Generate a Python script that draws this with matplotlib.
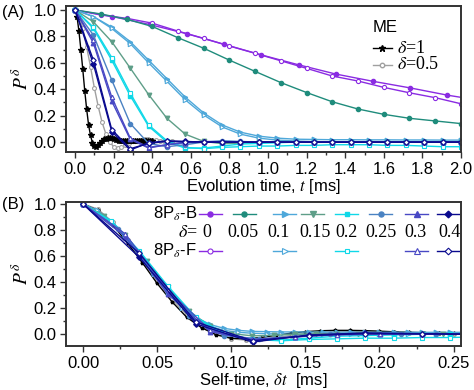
import matplotlib
matplotlib.use("Agg")
import matplotlib.pyplot as plt
from matplotlib.lines import Line2D
from matplotlib.ticker import MultipleLocator, FormatStrFormatter
import numpy as np

plt.rcParams['font.family'] = ['Liberation Sans', 'DejaVu Sans']
plt.rcParams['mathtext.fontset'] = 'stix'

# ---------------- data ----------------
# time grids [ms]
t_a = [0.0, 0.095, 0.190, 0.286, 0.381, 0.476, 0.571, 0.667, 0.762, 0.857,
       0.952, 1.048, 1.143, 1.238, 1.333, 1.429, 1.524, 1.619, 1.714, 1.810,
       1.905, 2.000, 2.095, 2.190, 2.286, 2.381, 2.476, 2.571, 2.667]
t_b = [0.0, 0.133, 0.267, 0.400, 0.533, 0.667, 0.800, 0.933, 1.067, 1.200,
       1.333, 1.467, 1.600, 1.733, 1.867, 2.000]
t_c = [0.0, 0.193, 0.386, 0.579, 0.772, 0.965, 1.158, 1.351, 1.544, 1.737,
       1.930, 2.123]
t_me1 = [0.00, 0.01, 0.02, 0.03, 0.04, 0.05, 0.06, 0.07, 0.08, 0.09, 0.10,
         0.11, 0.12, 0.13, 0.14, 0.15, 0.16, 0.17, 0.18, 0.19, 0.20, 0.21,
         0.22, 0.23, 0.24, 0.25, 0.26, 0.27, 0.28, 0.29, 0.30, 0.31, 0.32,
         0.33, 0.34, 0.35, 0.36, 0.37, 0.38, 0.39, 0.40]
t_me05 = [0.00, 0.02, 0.04, 0.06, 0.08, 0.10, 0.12, 0.14, 0.16, 0.18, 0.20,
          0.22, 0.24, 0.26, 0.28, 0.30, 0.32, 0.34, 0.36, 0.38, 0.40, 0.42,
          0.44, 0.46, 0.48, 0.50]

# ME curves
me_d1 = [1.0, 0.95, 0.84, 0.70, 0.55, 0.39, 0.25, 0.13, 0.05, -0.005, -0.03,
         -0.035, -0.025, -0.008, 0.008, 0.02, 0.027, 0.03, 0.03, 0.028, 0.024,
         0.019, 0.015, 0.012, 0.01, 0.009, 0.008, 0.008, 0.008, 0.008, 0.008,
         0.008, 0.008, 0.008, 0.008, 0.008, 0.008, 0.008, 0.008, 0.008, 0.008]
me_d05 = [1.0, 0.96, 0.86, 0.72, 0.57, 0.41, 0.27, 0.15, 0.06, 0.0, -0.035,
          -0.045, -0.04, -0.025, -0.01, 0.005, 0.012, 0.018, 0.02, 0.02, 0.018,
          0.015, 0.012, 0.01, 0.008, 0.005]

# 8P_delta-B (filled) and 8P_delta-F (open)
B_d0 = [1.0, 0.95, 0.89, 0.82, 0.74, 0.66, 0.585, 0.515, 0.46, 0.41, 0.355, 0.31]
F_d0 = [1.0, 0.962, 0.937, 0.90, 0.84, 0.785, 0.727, 0.672, 0.615, 0.558,
        0.50, 0.462, 0.414, 0.373, 0.336, 0.29]
B_d005 = [1.0, 0.97, 0.93, 0.875, 0.79, 0.71, 0.62, 0.535, 0.45, 0.375,
          0.305, 0.25, 0.21, 0.18, 0.16, 0.14]
B_d01 = [1.0, 0.95, 0.87, 0.76, 0.62, 0.48, 0.34, 0.22, 0.13, 0.075, 0.045,
         0.03, 0.022, 0.02, 0.018, 0.018, 0.017, 0.017, 0.016, 0.016, 0.015,
         0.015, 0.015, 0.015, 0.015, 0.015, 0.015, 0.015, 0.015]
F_d01 = [1.0, 0.95, 0.86, 0.745, 0.60, 0.46, 0.32, 0.205, 0.115, 0.06, 0.03,
         0.015, 0.008, 0.004, 0.002, 0.0, 0.0, 0.0, 0.0, 0.0, 0.0, 0.0, 0.0,
         0.0, 0.0, 0.0, 0.0, 0.0, 0.0]
B_d015 = [1.0, 0.91, 0.76, 0.56, 0.36, 0.18, 0.06, 0.005, -0.012, -0.008,
          0.0, 0.004, 0.004, 0.002, 0.0, 0.0, 0.0, 0.0, 0.0, 0.0, 0.0, 0.0,
          0.0, 0.0, 0.0, 0.0, 0.0, 0.0, 0.0]
B_d02 = [1.0, 0.86, 0.62, 0.35, 0.12, 0.0, -0.045, -0.045, -0.03, -0.015,
         -0.01, -0.005, 0.0, 0.0, 0.0, 0.0, 0.0, 0.0, 0.0, 0.0, 0.0, 0.0, 0.0,
         0.0, 0.0, 0.0, 0.0, 0.0, 0.0]
F_d02 = [1.0, 0.87, 0.64, 0.37, 0.13, 0.01, -0.04, -0.05, -0.04, -0.035,
         -0.03, -0.03, -0.025, -0.025, -0.02, -0.02, -0.02, -0.025, -0.025,
         -0.03, -0.035, -0.035, -0.035, -0.035, -0.035, -0.035, -0.035,
         -0.035, -0.035]
B_d025 = [1.0, 0.81, 0.47, 0.14, -0.01, -0.035, -0.02, 0.0, 0.01, 0.005,
          0.0, 0.0, 0.0, 0.0, 0.0, 0.0, 0.0, 0.0, 0.0, 0.0, 0.0, 0.0, 0.0,
          0.0, 0.0, 0.0, 0.0, 0.0, 0.0]
B_d03 = [1.0, 0.75, 0.31, 0.02, -0.045, -0.02, 0.0, 0.005, 0.003, 0.0, 0.0,
         0.0, 0.0, 0.0, 0.0, 0.0, 0.0, 0.0, 0.0, 0.0, 0.0, 0.0, 0.0, 0.0,
         0.0, 0.0, 0.0, 0.0, 0.0]
F_d03 = [1.0, 0.77, 0.34, 0.03, -0.04, -0.02, -0.005, 0.0, 0.0, 0.0, 0.0,
         0.0, 0.0, 0.0, 0.0, 0.0, 0.0, 0.0, 0.0, 0.0, 0.0, 0.0, 0.0, 0.0,
         0.0, 0.0, 0.0, 0.0, 0.0]
B_d04 = [1.0, 0.59, 0.08, -0.06, -0.005, 0.01, 0.005, 0.0, 0.0, 0.0, 0.0,
         0.0, 0.0, 0.0, 0.0, 0.0, 0.0, 0.0, 0.0, 0.0, 0.0, 0.0, 0.0, 0.0,
         0.0, 0.0, 0.0, 0.0, 0.0]
F_d04 = [1.0, 0.62, 0.095, -0.05, -0.01, 0.005, 0.003, 0.0, 0.0, 0.0, 0.0,
         0.0, 0.0, 0.0, 0.0, 0.0, 0.0, 0.0, 0.0, 0.0, 0.0, 0.0, 0.0, 0.0,
         0.0, 0.0, 0.0, 0.0, 0.0]

deltas = [0, 0.05, 0.1, 0.15, 0.2, 0.25, 0.3, 0.4]
delta_labels = ['0', '0.05', '0.1', '0.15', '0.2', '0.25', '0.3', '0.4']

# ---------------- styles ----------------
C = {0: '#8A2BE2', 0.05: '#1F8C7C', 0.1: '#4EA8DA', 0.15: '#5E9E88',
     0.2: '#10D8E8', 0.25: '#4A82C2', 0.3: '#4848C4', 0.4: '#0A0A8E'}
M = {0: 'o', 0.05: 'o', 0.1: '>', 0.15: 'v', 0.2: 's', 0.25: 'o', 0.3: '^', 0.4: 'D'}
MS = {0: 3.0, 0.05: 3.0, 0.1: 3.2, 0.15: 3.2, 0.2: 2.8, 0.25: 3.0, 0.3: 3.2, 0.4: 2.8}

series_B = {0: (t_c, B_d0), 0.05: (t_b, B_d005), 0.1: (t_a, B_d01),
            0.15: (t_a, B_d015), 0.2: (t_a, B_d02), 0.25: (t_a, B_d025),
            0.3: (t_a, B_d03), 0.4: (t_a, B_d04)}
series_F = {0: (t_b, F_d0), 0.1: (t_a, F_d01), 0.2: (t_a, F_d02),
            0.3: (t_a, F_d03), 0.4: (t_a, F_d04)}

W, H = 474, 390
fig = plt.figure(figsize=(W / 100, H / 100), dpi=100)

def ax_rect(l, r, t, b):
    return [l / W, 1 - b / H, (r - l) / W, (b - t) / H]

axA = fig.add_axes(ax_rect(66, 461, 6, 152))
axB = fig.add_axes(ax_rect(66, 461, 202, 346))

LW = 1.0

def draw(ax, scale):
    # ME
    ax.plot(np.array(t_me05) * (0.5 if scale else 1), me_d05, color='#A0A0A0',
            lw=LW, marker='o', ms=2.8, mfc='white', mec='#A0A0A0', mew=0.8)
    ax.plot(np.array(t_me1), me_d1, color='black',
            lw=LW, marker='*', ms=3.8 if not scale else 2.6, mec='black')
    for d in deltas:
        if scale and d < 0.1:
            continue
        t, p = series_B[d]
        x = np.array(t) * (d if scale else 1)
        ax.plot(x, p, color=C[d], lw=LW, marker=M[d], ms=MS[d], mfc=C[d], mec=C[d])
        if d in series_F:
            t, p = series_F[d]
            x = np.array(t) * (d if scale else 1)
            ax.plot(x, p, color=C[d], lw=LW, marker=M[d], ms=MS[d],
                    mfc='white', mec=C[d], mew=0.8)

draw(axA, False)
draw(axB, True)

for ax in (axA, axB):
    ax.yaxis.set_major_locator(MultipleLocator(0.2))
    ax.yaxis.set_minor_locator(MultipleLocator(0.1))
    ax.yaxis.set_major_formatter(FormatStrFormatter('%.1f'))
    ax.tick_params(which='both', direction='out', top=False, right=False,
                   labelsize=12, color='#333333', width=1.0, pad=2.5)
    ax.tick_params(which='major', length=4.5)
    ax.tick_params(which='minor', length=2.5)
    for s in ax.spines.values():
        s.set_linewidth(1.4)
        s.set_color('#333333')
    ax.set_ylabel(r'$P^{\delta}$', fontsize=14, labelpad=1)

axA.set_ylim(-0.075, 1.03)
axA.set_xlim(-0.047, 2.0)
axA.xaxis.set_major_locator(MultipleLocator(0.2))
axA.xaxis.set_minor_locator(MultipleLocator(0.1))
axA.xaxis.set_major_formatter(FormatStrFormatter('%.1f'))
axA.set_xlabel(r'Evolution time, $\mathit{t}$ [ms]', fontsize=12, labelpad=0)

axB.set_ylim(-0.09, 1.015)
axB.set_xlim(-0.0115, 0.255)
axB.xaxis.set_major_locator(MultipleLocator(0.05))
axB.xaxis.set_minor_locator(MultipleLocator(0.025))
axB.xaxis.set_major_formatter(FormatStrFormatter('%.2f'))
axB.set_xlabel(r'Self-time, $\delta t$  [ms]', fontsize=12, labelpad=0)

fig.text(2 / W, 1 - 13 / H, '(A)', fontsize=12, va='center', ha='left')
fig.text(2 / W, 1 - 205 / H, '(B)', fontsize=12, va='center', ha='left')

serif = ['Liberation Serif', 'DejaVu Serif']

def handle(ax, xc, y, half, **kw):
    ax.add_line(Line2D([xc - half, xc, xc + half], [y, y, y],
                       transform=ax.transAxes, clip_on=False, markevery=[1], **kw))

# ----- legend A (ME) -----
axA.text(0.777, 0.856, 'ME', transform=axA.transAxes, fontsize=12,
         ha='left', va='center')
handle(axA, 0.801, 0.712, 0.024, color='black', lw=LW, marker='*', ms=4.5)
axA.text(0.838, 0.712, r'$\delta$=1', transform=axA.transAxes, fontsize=13,
         family=serif, ha='left', va='center')
handle(axA, 0.801, 0.596, 0.024, color='#A0A0A0', lw=LW, marker='o', ms=3.2,
       mfc='white', mec='#A0A0A0')
axA.text(0.838, 0.596, r'$\delta$=0.5', transform=axA.transAxes, fontsize=13,
         family=serif, ha='left', va='center')

# ----- legend B -----
hx = [0.365, 0.451, 0.554, 0.625, 0.711, 0.797, 0.888, 0.967]
lx = [0.356, 0.448, 0.539, 0.630, 0.709, 0.797, 0.884, 0.970]
yB1, yB2, yB3 = 0.917, 0.79, 0.66
axB.text(0.332, yB1, r'8P$_\delta$-B', transform=axB.transAxes, fontsize=12,
         ha='right', va='center')
axB.text(0.332, yB3, r'8P$_\delta$-F', transform=axB.transAxes, fontsize=12,
         ha='right', va='center')
for d, x, xl, lab in zip(deltas, hx, lx, delta_labels):
    handle(axB, x, yB1, 0.029, color=C[d], lw=LW, marker=M[d], ms=MS[d] + 0.6,
           mfc=C[d], mec=C[d])
    axB.text(xl, yB2, lab, transform=axB.transAxes, fontsize=13, family=serif,
             ha='center', va='center')
    if d in series_F:
        handle(axB, x, yB3, 0.029, color=C[d], lw=LW, marker=M[d],
               ms=MS[d] + 0.6, mfc='white', mec=C[d], mew=0.8)
axB.text(0.334, yB2, r'$\delta$=', transform=axB.transAxes, fontsize=13,
         family=serif, ha='right', va='center')

fig.savefig('out.png', dpi=100)
